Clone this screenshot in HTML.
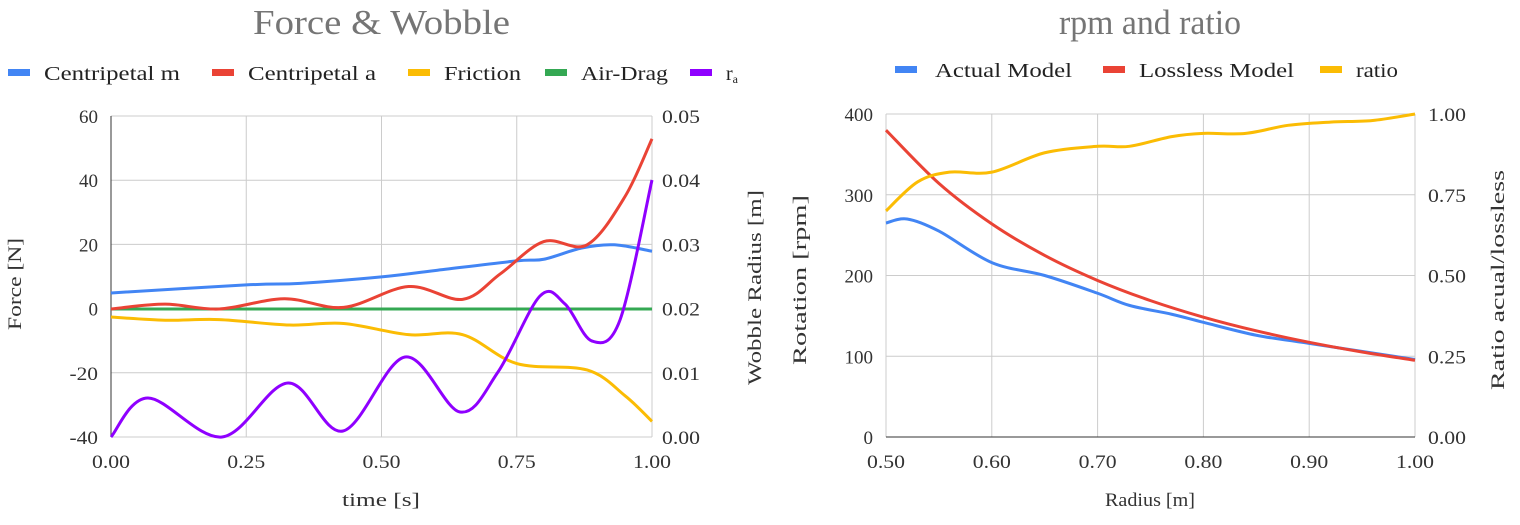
<!DOCTYPE html><html><head><meta charset="utf-8"><style>
body{margin:0;background:#fff;width:1520px;height:520px;overflow:hidden}
svg{font-family:"Liberation Serif",serif}
.t{font-size:35px;fill:#757575}
.l{font-size:20px;fill:#222}
.k{font-size:19px;fill:#333}
</style></head><body>
<svg id="s" width="1520" height="520" xmlns="http://www.w3.org/2000/svg">
<text class="t" x="253" y="34" textLength="257" lengthAdjust="spacingAndGlyphs">Force &amp; Wobble</text>
<text class="t" x="1059" y="34" textLength="182" lengthAdjust="spacingAndGlyphs">rpm and ratio</text>
<g class="l">
<rect x="8" y="69" width="22" height="7" fill="#4285f4"/><text x="44" y="80" textLength="136" lengthAdjust="spacingAndGlyphs">Centripetal m</text>
<rect x="212" y="69" width="22" height="7" fill="#ea4335"/><text x="248" y="80" textLength="128" lengthAdjust="spacingAndGlyphs">Centripetal a</text>
<rect x="408" y="69" width="22" height="7" fill="#fbbc04"/><text x="444" y="80" textLength="77" lengthAdjust="spacingAndGlyphs">Friction</text>
<rect x="545" y="69" width="22" height="7" fill="#34a853"/><text x="581" y="80" textLength="87" lengthAdjust="spacingAndGlyphs">Air-Drag</text>
<rect x="690" y="69" width="22" height="7" fill="#8f00ff"/><text x="726" y="80">r<tspan font-size="12" dy="3">a</tspan></text>
<rect x="895" y="66" width="22" height="7" fill="#4285f4"/><text x="935" y="77" textLength="137" lengthAdjust="spacingAndGlyphs">Actual Model</text>
<rect x="1103" y="66" width="22" height="7" fill="#ea4335"/><text x="1139" y="77" textLength="155" lengthAdjust="spacingAndGlyphs">Lossless Model</text>
<rect x="1320" y="66" width="22" height="7" fill="#fbbc04"/><text x="1356" y="77" textLength="42" lengthAdjust="spacingAndGlyphs">ratio</text>
</g>
<g id="grid" stroke="#ccc" stroke-width="1"></g>
<g id="lab" class="k" font-size="20"></g>
<line x1="111" y1="116" x2="111" y2="437" stroke="#333"/>
<line x1="886" y1="437" x2="1415" y2="437" stroke="#333"/>
<text class="k" transform="translate(21,330) rotate(-90)" textLength="92" lengthAdjust="spacingAndGlyphs">Force [N]</text>
<text class="k" transform="translate(761,385) rotate(-90)" textLength="195" lengthAdjust="spacingAndGlyphs">Wobble Radius [m]</text>
<text class="k" x="342" y="506" textLength="78" lengthAdjust="spacingAndGlyphs">time [s]</text>
<text class="k" transform="translate(806,365) rotate(-90)" textLength="170" lengthAdjust="spacingAndGlyphs">Rotation [rpm]</text>
<text class="k" transform="translate(1504,390) rotate(-90)" textLength="220" lengthAdjust="spacingAndGlyphs">Ratio acual/lossless</text>
<text class="k" x="1105" y="506" textLength="90" lengthAdjust="spacingAndGlyphs">Radius [m]</text>
<g id="ser" fill="none" stroke-width="3" stroke-linejoin="round"></g>
</svg>
<script>
var NS="http://www.w3.org/2000/svg";
function el(p,t,a,txt){var e=document.createElementNS(NS,t);for(var k in a)e.setAttribute(k,a[k]);if(txt!=null)e.textContent=txt;document.getElementById(p).appendChild(e);}
function tl(s){return s.length*9.5;}
for(var i=0;i<6;i++){var y=116+i*64.2;el("grid","line",{x1:111,x2:652,y1:y,y2:y});
var s=(60-20*i)+"";el("lab","text",{x:98-tl(s),y:y+7,textLength:tl(s),lengthAdjust:"spacingAndGlyphs"},s);
s=(0.05-0.01*i).toFixed(2);el("lab","text",{x:662,y:y+7,textLength:tl(s),lengthAdjust:"spacingAndGlyphs"},s);}
for(var i=0;i<5;i++){var x=111+i*135.25;el("grid","line",{x1:x,x2:x,y1:116,y2:437});
var s=(i*0.25).toFixed(2);el("lab","text",{x:x-tl(s)/2,y:468,textLength:tl(s),lengthAdjust:"spacingAndGlyphs"},s);}
for(var i=0;i<5;i++){var y=114+i*80.75;el("grid","line",{x1:886,x2:1415,y1:y,y2:y});
var s=(400-100*i)+"";el("lab","text",{x:873-tl(s),y:y+7,textLength:tl(s),lengthAdjust:"spacingAndGlyphs"},s);
s=(1-0.25*i).toFixed(2);el("lab","text",{x:1428,y:y+7,textLength:tl(s),lengthAdjust:"spacingAndGlyphs"},s);}
for(var i=0;i<6;i++){var x=886+i*105.8;el("grid","line",{x1:x,x2:x,y1:114,y2:437});
var s=(0.5+0.1*i).toFixed(2);el("lab","text",{x:x-tl(s)/2,y:468,textLength:tl(s),lengthAdjust:"spacingAndGlyphs"},s);}
function cr(p){var d="M"+p[0][0]+","+p[0][1];for(var i=0;i<p.length-1;i++){var a=p[Math.max(i-1,0)],b=p[i],c=p[i+1],e=p[Math.min(i+2,p.length-1)];
d+=" C"+(b[0]+(c[0]-a[0])/6)+","+(b[1]+(c[1]-a[1])/6)+" "+(c[0]-(e[0]-b[0])/6)+","+(c[1]-(e[1]-b[1])/6)+" "+c[0]+","+c[1];}return d;}
function L(pts,col){var p=pts.map(function(q){return[111+q[0]*541,309-q[1]*3.21]});el("ser","path",{d:cr(p),stroke:col});}
L([[0,0],[1,0]],"#34a853");
L([[0,-2.5],[0.1,-3.5],[0.2,-3.3],[0.33,-5],[0.43,-4.5],[0.55,-8],[0.65,-8],[0.75,-17],[0.88,-19],[0.95,-27],[1,-35]],"#fbbc04");
L([[0,5],[0.25,7.5],[0.35,8],[0.5,10],[0.6,12],[0.75,15],[0.8,15.5],[0.87,19],[0.93,20],[1,18]],"#4285f4");
L([[0,0],[0.1,1.5],[0.2,0],[0.32,3.2],[0.43,0.5],[0.55,7],[0.65,3],[0.72,11],[0.8,21],[0.88,20],[0.95,35],[1,53]],"#ea4335");
var pu=[[111,437],[148,398],[222,437],[288,383],[343,431],[405,357],[460,412],[498,372],[540,296],[565,304],[592,341],[620,320],[652,180]];
el("ser","path",{d:cr(pu),stroke:"#8f00ff"});
function R(pts,col,rat){var p=pts.map(function(q){return[886+(q[0]-0.5)*1058,rat?437-q[1]*323:437-q[1]*0.8075]});el("ser","path",{d:cr(p),stroke:col});}
var red=[];for(var r=0.5;r<=1.0001;r+=0.05)red.push([r,95/(r*r)]);
R([[0.5,265],[0.52,270],[0.55,255],[0.6,216],[0.65,200],[0.7,178],[0.73,163],[0.77,152],[0.8,142],[0.85,126],[0.9,116],[1,96]],"#4285f4");
R(red,"#ea4335");
R([[0.5,0.7],[0.53,0.79],[0.56,0.82],[0.6,0.82],[0.65,0.88],[0.7,0.9],[0.73,0.9],[0.77,0.93],[0.8,0.94],[0.84,0.94],[0.88,0.965],[0.92,0.975],[0.96,0.98],[1,1]],"#fbbc04",1);
</script>
</body></html>
